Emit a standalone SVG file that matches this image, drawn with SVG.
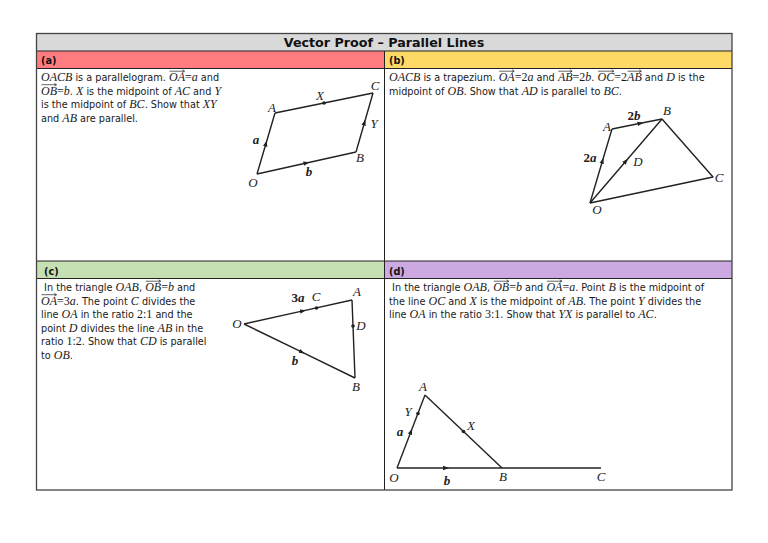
<svg xmlns="http://www.w3.org/2000/svg" width="768" height="543" viewBox="0 0 768 543">
<defs>
<style>
.t{font-family:"DejaVu Sans",sans-serif;font-size:9.7px;fill:#1a1a1a}
.hd{font-family:"DejaVu Sans",sans-serif;font-size:9.7px;font-weight:bold;fill:#111}
.m{font-family:"Liberation Serif",serif;font-style:italic;font-size:12px}
.r{font-family:"Liberation Serif",serif;font-style:normal;font-size:12px}
.lbl{font-family:"Liberation Serif",serif;font-style:italic;font-size:13px;fill:#222;text-anchor:middle}
.bv{font-weight:bold}
.fig{stroke:#222;stroke-width:1.4;fill:none;stroke-linejoin:round}
.ov{stroke:#222;stroke-width:0.7;fill:none}
.grid{stroke:#222;stroke-width:1;fill:none}
</style>
<marker id="ah" viewBox="0 0 6 6" refX="3" refY="3" markerWidth="6" markerHeight="6" markerUnits="userSpaceOnUse" orient="auto">
<path d="M0,0.8 L6,3 L0,5.2 z" fill="#222"/>
</marker>
</defs>
<rect width="768" height="543" fill="#fff"/>

<g id="table">
<rect x="36.5" y="33.5" width="695.5" height="17.5" fill="#d9d9d9"/>
<rect x="36.5" y="51" width="348" height="17.5" fill="#ff7c80"/>
<rect x="384.5" y="51" width="347.5" height="17.5" fill="#ffd966"/>
<rect x="36.5" y="261" width="348" height="17.5" fill="#c5e0b3"/>
<rect x="384.5" y="261" width="347.5" height="17.5" fill="#cca9e0"/>
<path class="grid" d="M36.5,51H732M36.5,68.5H732M36.5,261H732M36.5,278.5H732M384.5,51V490"/>
<rect x="36.5" y="33.5" width="695.5" height="456.5" fill="none" stroke="#444" stroke-width="1.3"/>
<text x="384" y="46.5" text-anchor="middle" style="font-family:'DejaVu Sans',sans-serif;font-size:12.7px;font-weight:bold;fill:#111">Vector Proof – Parallel Lines</text>
<text class="hd" x="41" y="64">(a)</text>
<text class="hd" x="389" y="64">(b)</text>
<text class="hd" x="44" y="274.5">(c)</text>
<text class="hd" x="389" y="274.5">(d)</text>
</g>

<g id="panel-a">
<text class="t" x="41" y="81"><tspan class="m">OACB</tspan> is a parallelogram. <tspan class="m" x="169">OA</tspan><tspan class="r">=</tspan><tspan class="m">a</tspan> and</text>
<text class="t" x="41" y="94.5"><tspan class="m">OB</tspan><tspan class="r">=</tspan><tspan class="m">b</tspan>. <tspan class="m">X</tspan> is the midpoint of <tspan class="m">AC</tspan> and <tspan class="m">Y</tspan></text>
<text class="t" x="41" y="108">is the midpoint of <tspan class="m">BC</tspan>. Show that <tspan class="m">XY</tspan></text>
<text class="t" x="41" y="121.5">and <tspan class="m">AB</tspan> are parallel.</text>
<path class="ov" d="M169.5,71.2H184.5M182.3,69.8L184.5,71.2L182.3,72.6"/>
<path class="ov" d="M41.5,84.7H56.5M54.3,83.3L56.5,84.7L54.3,86.1"/>
</g>

<g id="panel-b">
<text class="t" x="389" y="81"><tspan class="m">OACB</tspan> is a trapezium. <tspan class="m" x="498.7">OA</tspan><tspan class="r">=2</tspan><tspan class="m">a</tspan> and <tspan class="m" x="557.9">AB</tspan><tspan class="r">=2</tspan><tspan class="m">b</tspan>. <tspan class="m" x="597.6">OC</tspan><tspan class="r">=2</tspan><tspan class="m" x="627.1">AB</tspan> and <tspan class="m">D</tspan> is the</text>
<text class="t" x="389" y="94.5">midpoint of <tspan class="m">OB</tspan>. Show that <tspan class="m">AD</tspan> is parallel to <tspan class="m">BC</tspan>.</text>
<path class="ov" d="M499.2,71.2H514.2M512,69.8L514.2,71.2L512,72.6M558.4,71.2H572.1M569.9,69.8L572.1,71.2L569.9,72.6M598.1,71.2H613.8M611.6,69.8L613.8,71.2L611.6,72.6M627.6,71.2H641.3M639.1,69.8L641.3,71.2L639.1,72.6"/>
</g>

<g id="panel-c">
<text class="t" x="44.1" y="291">In the triangle <tspan class="m">OAB</tspan>, <tspan class="m" x="145.2">OB</tspan><tspan class="r">=</tspan><tspan class="m">b</tspan> and</text>
<text class="t" x="41" y="304.5"><tspan class="m">OA</tspan><tspan class="r">=3</tspan><tspan class="m">a</tspan>. The point <tspan class="m">C</tspan> divides the</text>
<text class="t" x="41" y="318">line <tspan class="m">OA</tspan> in the ratio <tspan class="r">2:1</tspan> and the</text>
<text class="t" x="41" y="331.5">point <tspan class="m">D</tspan> divides the line <tspan class="m">AB</tspan> in the</text>
<text class="t" x="41" y="345">ratio <tspan class="r">1:2</tspan>. Show that <tspan class="m">CD</tspan> is parallel</text>
<text class="t" x="41" y="358.5">to <tspan class="m">OB</tspan>.</text>
<path class="ov" d="M145.7,281.2H160.7M158.5,279.8L160.7,281.2L158.5,282.6M41.5,294.7H56.5M54.3,293.3L56.5,294.7L54.3,296.1"/>
</g>

<g id="panel-d">
<text class="t" x="392.1" y="291">In the triangle <tspan class="m">OAB</tspan>, <tspan class="m" x="493.2">OB</tspan><tspan class="r">=</tspan><tspan class="m">b</tspan> and <tspan class="m" x="546.4">OA</tspan><tspan class="r">=</tspan><tspan class="m">a</tspan>. Point <tspan class="m">B</tspan> is the midpoint of</text>
<text class="t" x="389" y="304.5">the line <tspan class="m">OC</tspan> and <tspan class="m">X</tspan> is the midpoint of <tspan class="m">AB</tspan>. The point <tspan class="m">Y</tspan> divides the</text>
<text class="t" x="389" y="318">line <tspan class="m">OA</tspan> in the ratio <tspan class="r">3:1</tspan>. Show that <tspan class="m">YX</tspan> is parallel to <tspan class="m">AC</tspan>.</text>
<path class="ov" d="M493.7,281.2H508.7M506.5,279.8L508.7,281.2L506.5,282.6M546.9,281.2H561.9M559.7,279.8L561.9,281.2L559.7,282.6"/>
</g>

<g id="connectors">
<path class="fig" d="M257,174 L266,143.5 L275,113" marker-mid="url(#ah)"/>
<path class="fig" d="M275,113 L373,93"/>
<path class="fig" d="M356,152 L364.5,122.5 L373,93" marker-mid="url(#ah)"/>
<path class="fig" d="M257,174 L306.5,163 L356,152" marker-mid="url(#ah)"/>
<circle cx="324" cy="103" r="1.8" fill="#222"/>
<path class="fig" d="M590,203 L602.5,160.8 L612,129" marker-mid="url(#ah)"/>
<path class="fig" d="M612,129 L640.5,123.3 L662,119" marker-mid="url(#ah)"/>
<path class="fig" d="M590,203 L626,161 L662,119" marker-mid="url(#ah)"/>
<path class="fig" d="M662,119 L713,177 L590,203"/>
<path class="fig" d="M244,324 L303,310.9 L352,300" marker-mid="url(#ah)"/>
<path class="fig" d="M352,300 L355,378"/>
<path class="fig" d="M244,324 L302,352.2 L355,378" marker-mid="url(#ah)"/>
<circle cx="316.5" cy="308" r="1.8" fill="#222"/>
<circle cx="353" cy="326" r="1.8" fill="#222"/>
<path class="fig" d="M397,468 L411,431.5 L425,395" marker-mid="url(#ah)"/>
<path class="fig" d="M425,395 L502,468"/>
<path class="fig" d="M397,468 L446,468 L601,468" marker-mid="url(#ah)"/>
<circle cx="418" cy="413.5" r="1.8" fill="#222"/>
<circle cx="463.5" cy="431.5" r="1.8" fill="#222"/>
</g>

<g id="labels-a">
<text class="lbl" x="272" y="112">A</text>
<text class="lbl" x="320" y="100">X</text>
<text class="lbl" x="375" y="90">C</text>
<text class="lbl" x="374" y="128">Y</text>
<text class="lbl" x="360" y="162">B</text>
<text class="lbl" x="253" y="187">O</text>
<text class="lbl bv" x="256" y="144">a</text>
<text class="lbl bv" x="309" y="176">b</text>
</g>
<g id="labels-b">
<text class="lbl" x="607" y="131">A</text>
<text class="lbl" x="634" y="120"><tspan class="bv" style="font-style:normal">2</tspan><tspan class="bv">b</tspan></text>
<text class="lbl" x="667" y="115">B</text>
<text class="lbl" x="590" y="162"><tspan class="bv" style="font-style:normal">2</tspan><tspan class="bv">a</tspan></text>
<text class="lbl" x="638" y="166">D</text>
<text class="lbl" x="719" y="182">C</text>
<text class="lbl" x="597" y="214">O</text>
</g>
<g id="labels-c">
<text class="lbl" x="237" y="328">O</text>
<text class="lbl" x="298" y="302"><tspan class="bv" style="font-style:normal">3</tspan><tspan class="bv">a</tspan></text>
<text class="lbl" x="316" y="301">C</text>
<text class="lbl" x="357" y="296">A</text>
<text class="lbl" x="361" y="330">D</text>
<text class="lbl bv" x="295" y="365">b</text>
<text class="lbl" x="356" y="391">B</text>
</g>
<g id="labels-d">
<text class="lbl" x="423" y="391">A</text>
<text class="lbl" x="408" y="416">Y</text>
<text class="lbl" x="471" y="430">X</text>
<text class="lbl bv" x="400" y="436">a</text>
<text class="lbl" x="394" y="482">O</text>
<text class="lbl bv" x="447" y="485">b</text>
<text class="lbl" x="503" y="481">B</text>
<text class="lbl" x="601" y="481">C</text>
</g>
</svg>
